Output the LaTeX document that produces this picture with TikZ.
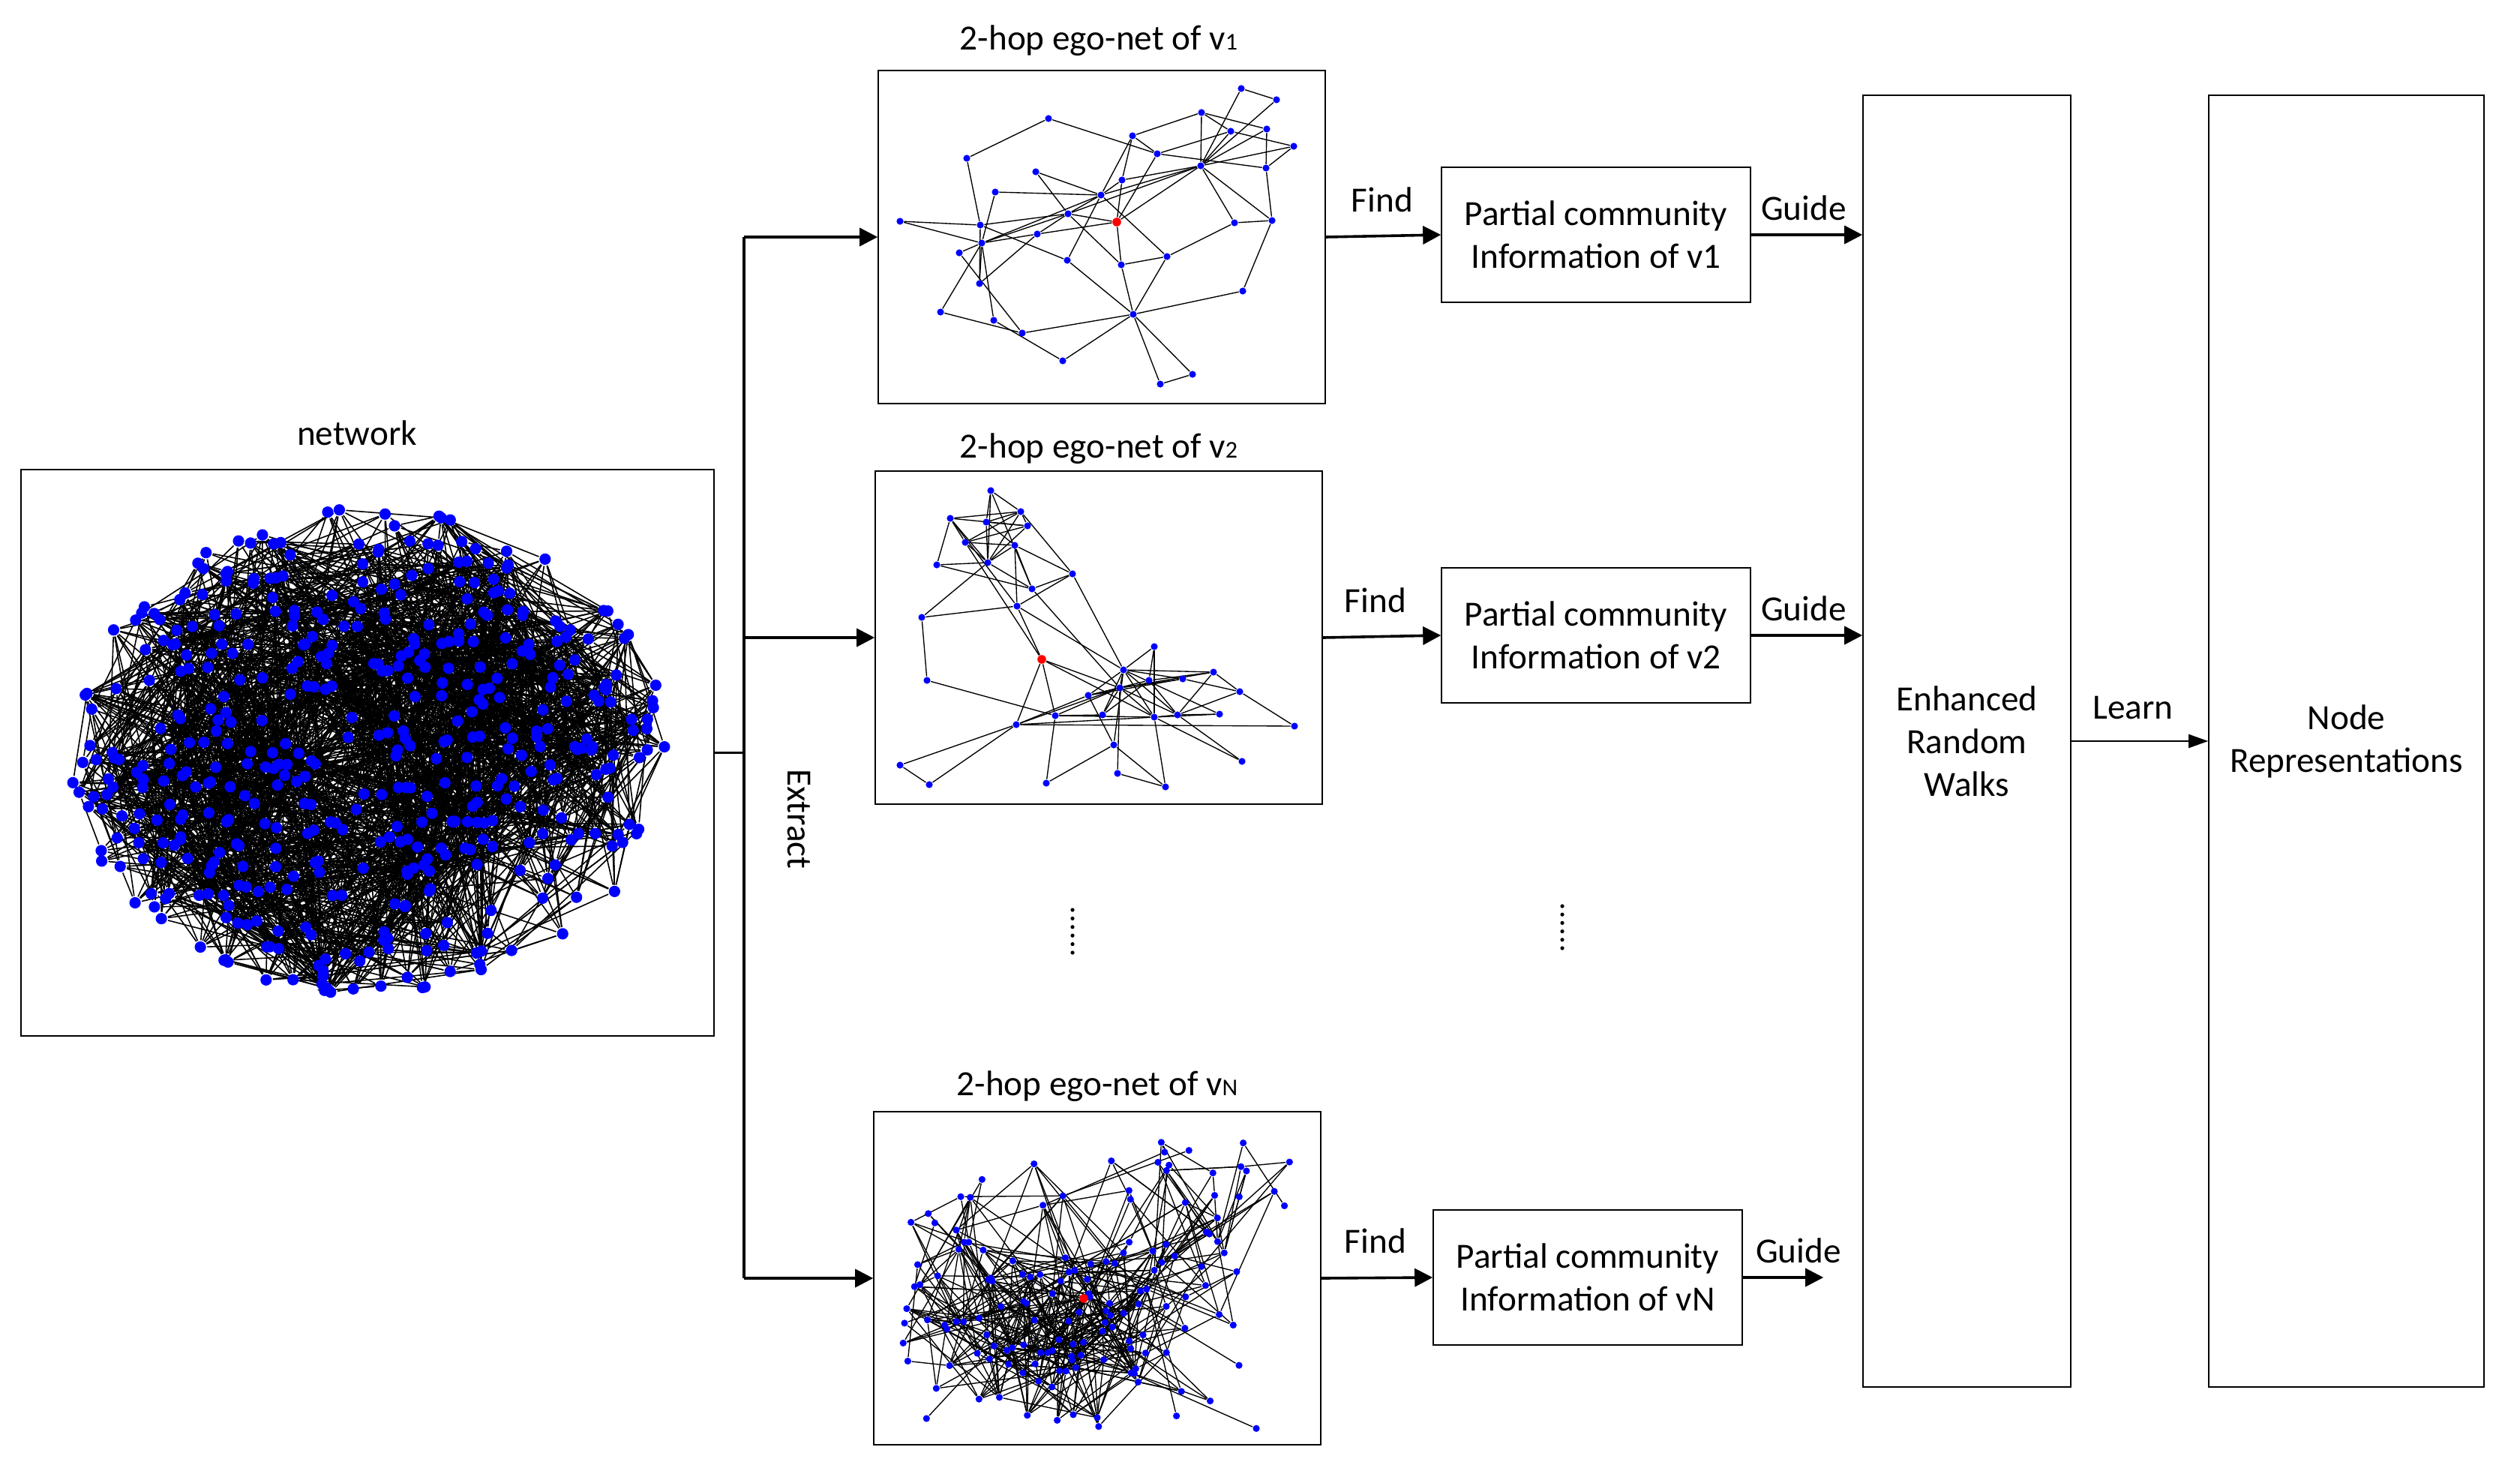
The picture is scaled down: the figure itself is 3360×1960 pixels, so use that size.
\documentclass[tikz,border=0pt]{standalone}
\usepackage{fontspec}
\setmainfont{Carlito}
\usetikzlibrary{arrows.meta,calc}
\pgfdeclarelayer{edges}
\pgfsetlayers{edges,main}
\newcommand\subidx[1]{{\fontsize{8}{9}\selectfont #1}}

\tikzset{every picture/.style={line width=0.75pt}}
\tikzset{
  box/.style={draw, line width=0.4pt, inner sep=0pt},
  flow/.style={line width=0.9pt},
  arr/.style={flow, -{Triangle[length=6pt,width=6pt]}},
  thinarr/.style={line width=0.5pt, -{Triangle[length=6.5pt,width=4.5pt]}},
  gdot/.style={circle, fill={rgb,255:red,0;green,0;blue,255}, inner sep=0pt, minimum size=3.8pt},
  sdot/.style={circle, fill={rgb,255:red,0;green,0;blue,255}, inner sep=0pt, minimum size=2.3pt},
  rdot/.style={circle, fill={rgb,255:red,255;green,0;blue,0}, inner sep=0pt, minimum size=2.9pt},
  gedge/.style={line width=0.4pt},
  sedge/.style={line width=0.34pt},
  lbl/.style={inner sep=0pt, align=center, font=\fontsize{11.8}{14.3}\selectfont},
}

\begin{document}
\begin{tikzpicture}[x=0.25pt,y=0.25pt,yscale=-1,xscale=1]
    \useasboundingbox (0,0) rectangle (3360,1960);

    %Shape: Rectangle [network]
    \node[box, minimum width=231pt, minimum height=188.75pt] (net) at (490,1003.5) {};
    %Shape: Rectangle [ego-nets]
    \node[box, minimum width=149pt, minimum height=111pt] (ego1) at (1469,316) {};
    \node[box, minimum width=149pt, minimum height=111pt] (ego2) at (1465,850) {};
    \node[box, minimum width=149pt, minimum height=111pt] (egoN) at (1463,1704) {};
    %Shape: Rectangle [partial community]
    \node[box, lbl, minimum width=103pt, minimum height=45pt] (part1) at (2128,313) {Partial community\\Information of v1};
    \node[box, lbl, minimum width=103pt, minimum height=45pt] (part2) at (2128,847) {Partial community\\Information of v2};
    \node[box, lbl, minimum width=103pt, minimum height=45pt] (partN) at (2117,1703) {Partial community\\Information of vN};
    %Shape: Rectangle [walks, representations]
    \node[box, lbl, minimum width=69.25pt, minimum height=430.5pt] (erw) at (2622.5,988) {Enhanced\\Random\\Walks};
    \node[box, lbl, minimum width=91.75pt, minimum height=430.5pt] (nrep) at (3128.5,988) {Node\\Representations};

    % whole network
    \pgfmathsetseed{2019}
    \foreach \i in {1,...,470}{
      \pgfmathsetmacro\ra{rnd^0.55}
      \pgfmathsetmacro\ang{360*rnd}
      \pgfmathsetmacro\px{492+398*\ra*cos(\ang)}
      \pgfmathsetmacro\py{1004+326*\ra*sin(\ang)}
      \expandafter\xdef\csname gx\i\endcsname{\px}
      \expandafter\xdef\csname gy\i\endcsname{\py}
      \node[gdot] (g\i) at (\px,\py) {};
    }
    \begin{pgfonlayer}{edges}
    \foreach \i in {1,...,470}{
      \foreach \k in {1,...,13}{
        \pgfmathrandominteger{\j}{1}{470}
        \edef\xa{\csname gx\i\endcsname}\edef\ya{\csname gy\i\endcsname}
        \edef\xb{\csname gx\j\endcsname}\edef\yb{\csname gy\j\endcsname}
        \pgfmathsetmacro\dx{(\xa-\xb)/100}
        \pgfmathsetmacro\dy{(\ya-\yb)/100}
        \pgfmathsetmacro\dd{\dx*\dx+\dy*\dy}
        \ifdim\dd pt<9pt \draw[gedge] (g\i) -- (g\j);\fi
      }
    }
    \end{pgfonlayer}

    % ego-net of v1
    \begin{scope}[shift={(1171,94)}]
    \foreach \n/\px/\py in {a1/484/24, a2/531/39, a3/227/64, a4/431/56, a5/470/81, a6/518/78,
        a7/339/87, a8/554/101, a9/372/111, a10/118/117, a11/430/127, a12/517/130, a13/210/135,
        a14/325/146, a15/156/162, a16/297/166, a17/253/191, a18/29/201, a19/136/206, a20/475/203,
        a21/525/200, a22/212/218, a23/138/230, a24/108/243, a25/252/253, a26/385/248, a27/324/259,
        a28/135/284, a29/486/294, a30/83/322, a31/154/333, a32/340/325, a33/192/350, a34/246/387,
        a35/419/405, a36/376/418}
      \node[sdot] (\n) at (\px,\py) {};
    \node[rdot] (r1) at (318,202) {};
    \end{scope}
    \begin{pgfonlayer}{edges}
    \foreach \u/\v in {a1/a2, a1/a11, a2/a11, a4/a7, a4/a5, a4/a6, a4/a11, a6/a12, a5/a8, a12/a8,
        a11/a8, a3/a10, a3/a9, a9/a12, a7/a9, a7/a16, a7/a14, a9/a5, a9/r1, a11/a14, a11/a16,
        a11/a17, a11/r1, a11/a20, a11/a21, a11/a5, a11/a6, a10/a19, a19/a28, a13/a16, a13/a17,
        a15/a16, a15/a23, a16/a26, a16/a25, a16/a17, a16/a23, a18/a19, a18/a23, a17/a19, a17/r1,
        a17/a23, a17/a27, a17/a22, a22/r1, a19/a25, a23/a24, a23/a28, a23/a31, a23/a22, a24/a33,
        a22/a28, a30/a23, a30/a33, a31/a34, a25/a32, r1/a27, a27/a32, a26/a32, a27/a26, a20/a26,
        a20/a21, a12/a21, a21/a29, a29/a32, a32/a33, a32/a34, a32/a35, a32/a36, a35/a36, a14/r1,
        a14/a16}
      \draw[sedge] (\u) -- (\v);
    \end{pgfonlayer}

    % ego-net of v2
    \begin{scope}[shift={(1167,628)}]
    \foreach \n/\px/\py in {b1/154/26, b2/194/54, b3/100/63, b4/148/68, b5/203/73, b6/120/95,
        b7/186/99, b8/82/125, b9/150/122, b10/263/137, b11/209/157, b12/189/180, b13/62/195,
        b14/372/234, b15/331/265, b16/451/268, b17/69/279, b18/410/277, b19/365/279, b20/326/289,
        b21/486/294, b22/284/299, b23/240/326, b24/303/325, b25/372/328, b26/403/325, b27/459/324,
        b28/188/338, b29/559/340, b30/318/365, b31/489/387, b32/33/392, b33/323/403, b34/72/418,
        b35/228/416, b36/387/421}
      \node[sdot] (\n) at (\px,\py) {};
    \node[rdot] (r2) at (222,251) {};
    \end{scope}
    \begin{pgfonlayer}{edges}
    \foreach \u/\v in {b1/b2, b1/b4, b1/b9, b1/b11, b2/b3, b2/b4, b2/b6, b2/b9, b2/b10, b2/b5,
        b3/b5, b3/b6, b3/b8, b3/b9, b3/b12, b4/b5, b4/b7, b4/b9, b5/b6, b5/b9, b6/b7, b6/b9, b6/r2,
        b7/b9, b7/b10, b7/b11, b7/b12, b8/b9, b8/b11, b9/b11, b9/b13, b10/b11, b10/b12, b10/b15,
        b11/b20, b12/b13, b12/b15, b12/r2, b13/b17, b17/b23, r2/b20, r2/b25, r2/b28, r2/b23,
        b23/b35, b14/b15, b14/b19, b14/b25, b15/b16, b15/b18, b15/b20, b15/b22, b15/b24, b15/b25,
        b15/b26, b15/b30, b15/b27, b16/b19, b16/b20, b16/b21, b16/b26, b18/b20, b18/b22, b18/b21,
        b19/b22, b19/b24, b19/b26, b20/b22, b20/b23, b20/b25, b20/b26, b20/b33, b20/b28, b20/b24,
        b21/b29, b21/b26, b22/b28, b22/b30, b23/b24, b23/b25, b25/b26, b25/b27, b25/b31, b25/b36,
        b25/b28, b26/b27, b26/b31, b28/b29, b28/b32, b28/b34, b30/b35, b30/b36, b32/b34, b33/b36}
      \draw[sedge] (\u) -- (\v);
    \end{pgfonlayer}

    % ego-net of vN
    \begin{scope}[shift={(1165,1482)}]
    \pgfmathsetseed{77}
    \foreach \i in {1,...,150}{
      \ifnum\i<101
        \pgfmathsetmacro\px{38+522*rnd}
        \pgfmathsetmacro\py{36+388*rnd}
      \else
        \pgfmathsetmacro\px{260+170*(rnd+rnd-1)}
        \pgfmathsetmacro\py{280+130*(rnd+rnd-1)}
      \fi
      \expandafter\xdef\csname cx\i\endcsname{\px}
      \expandafter\xdef\csname cy\i\endcsname{\py}
      \node[sdot] (c\i) at (\px,\py) {};
    }
    \node[rdot] (rN) at (280,249) {};
    \end{scope}
    \begin{pgfonlayer}{edges}
    \foreach \i in {1,...,150}{
      \foreach \k in {1,...,6}{
        \pgfmathrandominteger{\j}{1}{150}
        \edef\xa{\csname cx\i\endcsname}\edef\ya{\csname cy\i\endcsname}
        \edef\xb{\csname cx\j\endcsname}\edef\yb{\csname cy\j\endcsname}
        \pgfmathsetmacro\dx{(\xa-\xb)/100}
        \pgfmathsetmacro\dy{(\ya-\yb)/100}
        \pgfmathsetmacro\dd{\dx*\dx+\dy*\dy}
        \ifdim\dd pt<3.6pt \draw[sedge] (c\i) -- (c\j);\fi
      }
    }
    \foreach \j in {104,112,120,131,139,146,12,33}
      \draw[sedge] (rN) -- (c\j);
    \end{pgfonlayer}

    %Straight Lines [extract]
    \coordinate (trunk) at (992,1003.5);
    \draw[flow] (net.east) -- (trunk);
    \draw[flow] (trunk |- ego1.west) -- (trunk |- egoN.west);
    \draw[arr] (trunk |- ego1.west) -- (ego1.west);
    \draw[arr] (trunk |- ego2.west) -- (ego2.west);
    \draw[arr] (trunk |- egoN.west) -- (egoN.west);
    %Straight Lines [find]
    \draw[arr] (ego1.east) -- (part1.west);
    \draw[arr] (ego2.east) -- (part2.west);
    \draw[arr] (egoN.east) -- (partN.west);
    %Straight Lines [guide]
    \draw[arr] (part1.east) -- (erw.west |- part1.east);
    \draw[arr] (part2.east) -- (erw.west |- part2.east);
    \draw[arr, shorten >=13] (partN.east) -- (erw.west |- partN.east);
    %Straight Lines [learn]
    \draw[thinarr] (erw.east) -- (nrep.west);

    % vertical dots
    \foreach \k in {0,...,5}{
      \fill (1430,1213+11.4*\k) circle[radius=2.6];
      \fill (2083,1208+11.2*\k) circle[radius=2.6];
    }

    % Text Node
    \node[lbl] (netlbl) at (476,577) {network};
    \node[lbl] (ttl1) at (1465,54) {2-hop ego-net of v\subidx{1}};
    \node[lbl] (ttl2) at (1465,598) {2-hop ego-net of v\subidx{2}};
    \node[lbl] (ttlN) at (1463,1448) {2-hop ego-net of v\subidx{N}};
    \node[lbl, rotate=-90] (extract) at (1065,1092) {Extract};
    \node[lbl] (find1) at (1843,266) {Find};
    \node[lbl] (find2) at (1834,800) {Find};
    \node[lbl] (findN) at (1834,1654) {Find};
    \node[lbl] (guide1) at (2405,277) {Guide};
    \node[lbl] (guide2) at (2405,811) {Guide};
    \node[lbl] (guideN) at (2398,1667) {Guide};
    \node[lbl] (learn) at (2844,944) {Learn};
\end{tikzpicture}
\end{document}
